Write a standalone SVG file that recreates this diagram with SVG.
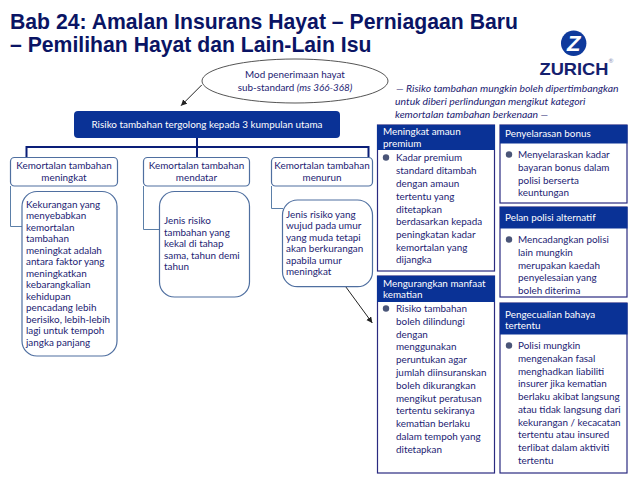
<svg xmlns="http://www.w3.org/2000/svg" width="638" height="478" viewBox="0 0 638 478">
<style>
text{font-family:Lato,"Open Sans",sans-serif;font-size:9.9px;fill:#1c1c72}
.t{font-family:"Liberation Sans",Arial,sans-serif;font-size:21.2px;font-weight:bold;fill:#0a1464}
.c{text-anchor:middle}
.wh{fill:#fff;font-size:9.9px}
.sm{fill:none;stroke:#5b7fa8;stroke-width:1}
.box{fill:#fff;stroke:#4f6fa0;stroke-width:1.2}
.hd{fill:#0a3296;stroke:none}
.pn{fill:#fff;stroke:#2a2a80;stroke-width:1.2}
.bar{fill:none;stroke:#0a1e78;stroke-width:2}
.arr{stroke:#222;stroke-width:1;fill:none;marker-end:url(#a)}
.bl{fill:#4a5578}
.it{font-style:italic}
.nt{font-style:italic;font-size:10.4px}
</style>
<defs><marker id="a" markerWidth="7" markerHeight="7" refX="6" refY="3" orient="auto" markerUnits="userSpaceOnUse"><path d="M0 0L6 3L0 6z" fill="#222"/></marker></defs>
<rect width="638" height="478" fill="#fff"/>
<g id="title"><text class="t" x="10" y="29">Bab 24: Amalan Insurans Hayat – Perniagaan Baru</text><text class="t" x="10" y="52">– Pemilihan Hayat dan Lain-Lain Isu</text></g>
<g id="logo"><circle cx="573.700" cy="43.300" r="12.700" fill="#0f3a9c"/><text x="573.700" y="51" class="c" style="font-family:'Liberation Sans',sans-serif;font-size:22px;font-weight:bold;font-style:italic;fill:#fff">Z</text><text x="574" y="75" class="c" style="font-family:'Liberation Sans',sans-serif;font-size:16.700px;font-weight:bold;fill:#14206e" textLength="69" lengthAdjust="spacingAndGlyphs">ZURICH</text><text x="611" y="63" class="c" style="font-size:6px;fill:#8a94b8">®</text></g>
<g id="connectors">
<path class="bar" d="M197 138V157M26.500 157V147H368.500V157"/>
<path class="sm" d="M10.500 186V226.500H22M143.500 186V229.500H159M271.500 186V208.500H283"/>
<path class="arr" d="M201.700 85L181 105.700"/>
<path class="arr" d="M345.700 286.700L372.300 323"/>
</g>
<g id="mod"><ellipse cx="295" cy="81" rx="93" ry="22" fill="#fff" stroke="#555" stroke-width="1"/><text class="c" x="295" y="78">Mod penerimaan hayat</text><text class="c" x="295" y="91">sub-standard <tspan class="it">(ms 366-368)</tspan></text></g>
<g id="note"><text class="nt" x="396" y="92">— Risiko tambahan mungkin boleh dipertimbangkan</text><text class="nt" x="395" y="105">untuk diberi perlindungan mengikut kategori</text><text class="nt" x="395" y="118">kemortalan tambahan berkenaan —</text></g>
<g id="root"><rect x="74" y="111" width="266" height="27" rx="4" fill="#0a3296"/><text class="c wh" x="207" y="128">Risiko tambahan tergolong kepada 3 kumpulan utama</text></g>
<g id="c1"><rect class="box" x="10.500" y="157.500" width="107" height="28.500" rx="4"/><text class="c" x="64" y="169">Kemortalan tambahan</text><text class="c" x="64" y="180.500">meningkat</text></g>
<g id="c2"><rect class="box" x="143.500" y="157.500" width="106" height="28.500" rx="4"/><text class="c" x="196.500" y="169">Kemortalan tambahan</text><text class="c" x="196.500" y="180.500">mendatar</text></g>
<g id="c3"><rect class="box" x="271.500" y="157.500" width="101" height="28.500" rx="4"/><text class="c" x="322" y="169">Kemortalan tambahan</text><text class="c" x="322" y="180.500">menurun</text></g>
<g id="b1"><rect class="box" x="22" y="191.500" width="95" height="164.500" rx="15"/><text x="26" y="207.700">Kekurangan yang</text><text x="26" y="219.200">menyebabkan</text><text x="26" y="230.700">kemortalan</text><text x="26" y="242.200">tambahan</text><text x="26" y="253.700">meningkat adalah</text><text x="26" y="265.200">antara faktor yang</text><text x="26" y="276.700">meningkatkan</text><text x="26" y="288.200">kebarangkalian</text><text x="26" y="299.700">kehidupan</text><text x="26" y="311.200">pencadang lebih</text><text x="26" y="322.700">berisiko, lebih-lebih</text><text x="26" y="334.200">lagi untuk tempoh</text><text x="26" y="345.700">jangka panjang</text></g>
<g id="b2"><rect class="box" x="159.500" y="191.500" width="90" height="105.500" rx="15"/><text x="164" y="224.300">Jenis risiko</text><text x="164" y="235.800">tambahan yang</text><text x="164" y="247.300">kekal di tahap</text><text x="164" y="258.800">sama, tahun demi</text><text x="164" y="270.300">tahun</text></g>
<g id="b3"><rect class="box" x="282.500" y="200" width="90" height="86.700" rx="15"/><text x="286" y="217.700">Jenis risiko yang</text><text x="286" y="229.200">wujud pada umur</text><text x="286" y="240.700">yang muda tetapi</text><text x="286" y="252.200">akan berkurangan</text><text x="286" y="263.700">apabila umur</text><text x="286" y="275.200">meningkat</text></g>
<g id="p1"><rect class="pn" x="377.500" y="125" width="117" height="146"/><rect class="hd" x="377" y="125" width="118" height="25"/><text class="wh" x="383" y="135">Meningkat amaun</text><text class="wh" x="383" y="146.700">premium</text><circle class="bl" cx="386" cy="157.500" r="3.200"/><text x="396" y="161">Kadar premium</text><text x="396" y="174">standard ditambah</text><text x="396" y="187">dengan amaun</text><text x="396" y="199.500">tertentu yang</text><text x="396" y="212.500">ditetapkan</text><text x="396" y="225">berdasarkan kepada</text><text x="396" y="238">peningkatan kadar</text><text x="396" y="250.500">kemortalan yang</text><text x="396" y="263">dijangka</text></g>
<g id="p2"><rect class="pn" x="377.500" y="276" width="117" height="197"/><rect class="hd" x="377" y="276" width="118" height="26"/><text class="wh" x="383" y="286.500">Mengurangkan manfaat</text><text class="wh" x="383" y="298">kematian</text><circle class="bl" cx="386" cy="308.500" r="3.200"/><text x="396" y="312">Risiko tambahan</text><text x="396" y="324.500">boleh dilindungi</text><text x="396" y="337.500">dengan</text><text x="396" y="350">menggunakan</text><text x="396" y="363">peruntukan agar</text><text x="396" y="376">jumlah diinsuranskan</text><text x="396" y="388.500">boleh dikurangkan</text><text x="396" y="401.500">mengikut peratusan</text><text x="396" y="414">tertentu sekiranya</text><text x="396" y="427">kematian berlaku</text><text x="396" y="439.500">dalam tempoh yang</text><text x="396" y="452.500">ditetapkan</text></g>
<g id="p3"><rect class="pn" x="500" y="125" width="127" height="78"/><rect class="hd" x="500" y="125" width="127.500" height="18.500"/><text class="wh" x="505" y="137.300">Penyelarasan bonus</text><circle class="bl" cx="509" cy="154.500" r="3.200"/><text x="518" y="158">Menyelaraskan kadar</text><text x="518" y="171">bayaran bonus dalam</text><text x="518" y="183.500">polisi berserta</text><text x="518" y="196">keuntungan</text></g>
<g id="p4"><rect class="pn" x="500" y="207" width="127" height="90"/><rect class="hd" x="500" y="207" width="127.500" height="21.500"/><text class="wh" x="505" y="220.500">Pelan polisi alternatif</text><circle class="bl" cx="509" cy="239.500" r="3.200"/><text x="518" y="243">Mencadangkan polisi</text><text x="518" y="256">lain mungkin</text><text x="518" y="268.500">merupakan kaedah</text><text x="518" y="281">penyelesaian yang</text><text x="518" y="294">boleh diterima</text></g>
<g id="p5"><rect class="pn" x="500" y="303" width="127" height="170"/><rect class="hd" x="500" y="303" width="127.500" height="31.500"/><text class="wh" x="505" y="317.500">Pengecualian bahaya</text><text class="wh" x="505" y="329">tertentu</text><circle class="bl" cx="509" cy="345.500" r="3.200"/><text x="518" y="349">Polisi mungkin</text><text x="518" y="362">mengenakan fasal</text><text x="518" y="374.500">menghadkan liabiliti</text><text x="518" y="387">insurer jika kematian</text><text x="518" y="400">berlaku akibat langsung</text><text x="518" y="413">atau tidak langsung dari</text><text x="518" y="425.500">kekurangan / kecacatan</text><text x="518" y="438">tertentu atau insured</text><text x="518" y="451">terlibat dalam aktiviti</text><text x="518" y="464">tertentu</text></g>
</svg>
